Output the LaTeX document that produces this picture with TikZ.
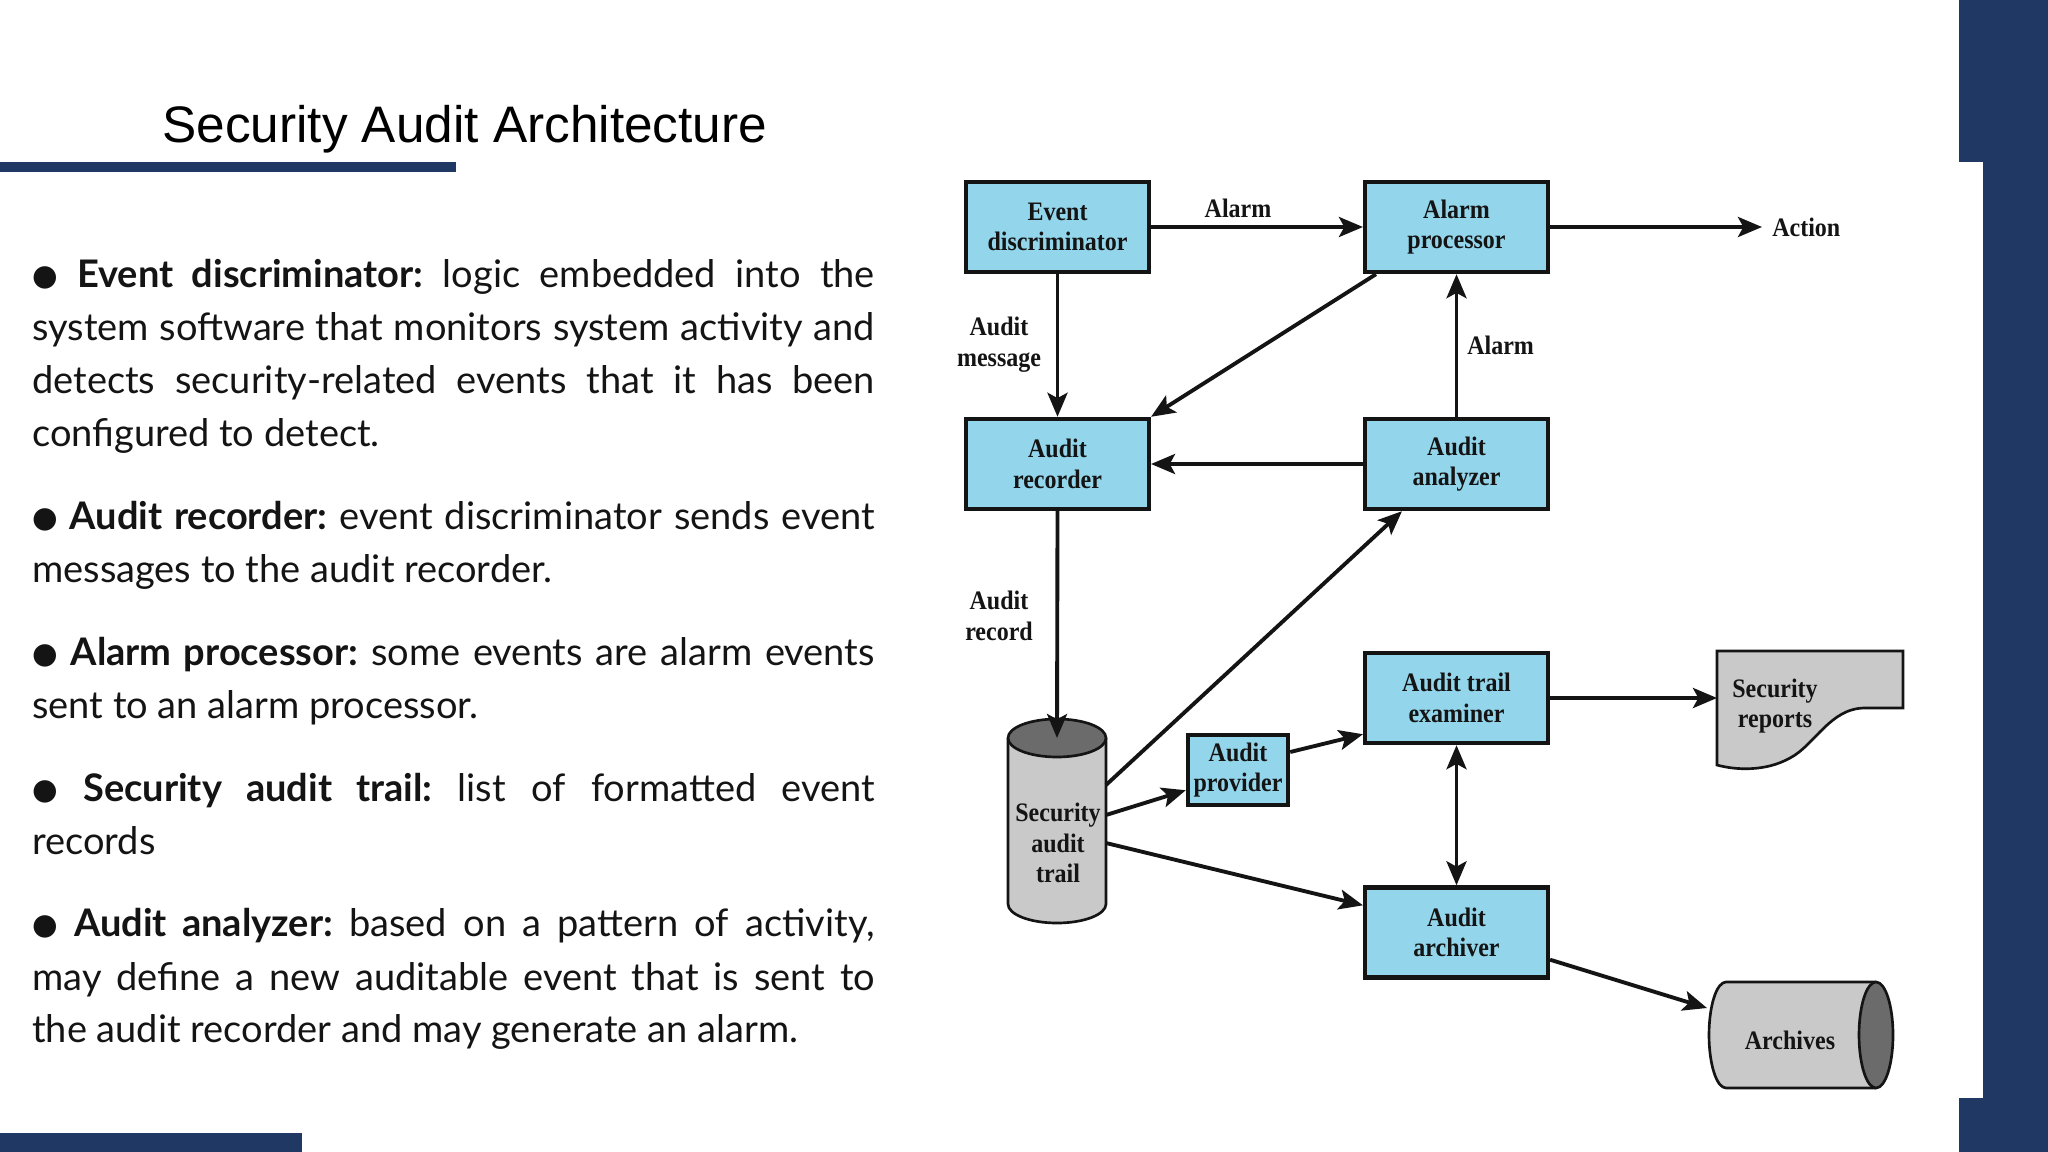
\documentclass[tikz,border=0pt]{standalone}
\usepackage{fontspec}
\setmainfont{Lato}
\newfontfamily\tfont{Liberation Sans}
\newfontfamily\dfont[FakeStretch=0.9]{Liberation Serif}
\newfontfamily\symfont{DejaVu Sans}
\usetikzlibrary{arrows.meta,calc}
\definecolor{navy}{HTML}{203864}
\definecolor{boxblue}{HTML}{93D6EC}
\definecolor{cylgray}{HTML}{C9C9C9}
\definecolor{cyldark}{HTML}{6B6B6B}
\definecolor{ink}{HTML}{141414}
\newcommand\jline[1]{\makebox[632pt][s]{#1}}
\newcommand\blt{\raisebox{1.5pt}{\symfont\fontsize{22pt}{22pt}\selectfont ●}}
\begin{document}
\begin{tikzpicture}[x=0.75pt,y=-0.75pt,
  box/.style={draw=ink, line width=3.3pt, fill=boxblue, minimum width=137pt, minimum height=67.5pt,
    inner sep=0pt, align=center, font=\dfont\bfseries\fontsize{20pt}{23pt}\selectfont, text=ink},
  lbl/.style={font=\dfont\bfseries\fontsize{20pt}{23pt}\selectfont, text=ink, align=center, inner sep=0pt},
  body/.style={anchor=base west, inner sep=0pt, font=\frenchspacing\fontsize{28.5pt}{36pt}\selectfont, text=ink},
  tip/.tip={Stealth[length=18pt,width=15pt,inset=4pt]},
  conn/.style={line width=2.9pt, draw=ink, -tip},
  shapeline/.style={draw=ink, line width=2pt}
]
\useasboundingbox (0,0) rectangle (2048,1152);
\fill[white] (0,0) rectangle (2048,1152);
% decoration bars
\fill[navy] (1959,0) -- (2048,0) -- (2048,1152) -- (1959,1152) -- (1959,1098) -- (1983,1098) -- (1983,162) -- (1959,162) -- cycle;
\fill[navy] (0,162) rectangle (456,172);
\fill[navy] (0,1133) rectangle (302,1152);
% title
\node[anchor=base west, inner sep=0pt, font=\tfont\fontsize{38.5pt}{40pt}\selectfont, text=black] (title) at (162,143) {Security Audit Architecture};
% body text
\node[body] (l1) at (32,287) {\jline{\blt\ \textbf{Event discriminator:} logic embedded into the}};
\node[body] (l2) at (32,340) {\jline{system software that monitors system activity and}};
\node[body] (l3) at (32,393) {\jline{detects security-related events that it has been}};
\node[body] (l4) at (32,446) {configured to detect.};
\node[body] (l5) at (32,529) {\jline{\blt\ \textbf{Audit recorder:} event discriminator sends event}};
\node[body] (l6) at (32,582) {messages to the audit recorder.};
\node[body] (l7) at (32,665) {\jline{\blt\ \textbf{Alarm processor:} some events are alarm events}};
\node[body] (l8) at (32,718) {sent to an alarm processor.};
\node[body] (l9) at (32,801) {\jline{\blt\ \textbf{Security audit trail:} list of formatted event}};
\node[body] (l10) at (32,854) {records};
\node[body] (l11) at (32,936) {\jline{\blt\ \textbf{Audit analyzer:} based on a pattern of activity,}};
\node[body] (l12) at (32,990) {\jline{may define a new auditable event that is sent to}};
\node[body] (l13) at (32,1042) {the audit recorder and may generate an alarm.};
% security audit trail cylinder
\fill[cylgray] (1008,738) rectangle (1106,904);
\fill[cylgray] (1057,904) ellipse[x radius=36.75pt, y radius=14.25pt];
\draw[shapeline] (1008,738) -- (1008,904) arc[start angle=180, end angle=360, x radius=36.75pt, y radius=14.25pt] -- (1106,738);
\filldraw[shapeline, fill=cyldark] (1057,738) ellipse[x radius=36.75pt, y radius=14.25pt];
\node[lbl] (sat) at (1058,843) {Security\\audit\\trail};
% security reports document
\filldraw[shapeline, fill=cylgray] (1717,651) -- (1903,651) -- (1903,708) -- (1865,708) .. controls (1830,708) and (1815,745) .. (1790,758) .. controls (1765,772) and (1735,770) .. (1717,765) -- cycle;
\node[lbl] (srt) at (1775,706) {Security\\reports};
% archives cylinder
\fill[cylgray] (1726,982) rectangle (1876,1088);
\draw[shapeline, fill=cylgray] (1876,982) -- (1726,982) arc[start angle=90, end angle=270, x radius=12.75pt, y radius=39.75pt] -- (1876,1088);
\filldraw[shapeline, fill=cyldark] (1876,1035) ellipse[x radius=12.75pt, y radius=39.75pt];
\node[lbl] (arct) at (1790,1040) {Archives};
% boxes
\node[box] (ed) at (1057.5,227) {Event\\discriminator};
\node[box] (ap) at (1456.5,227) {Alarm\\processor};
\node[box] (ar) at (1057.5,464) {Audit\\recorder};
\node[box] (aa) at (1456.5,464) {Audit\\analyzer};
\node[box] (ate) at (1456.5,698) {Audit trail\\examiner};
\node[box] (aar) at (1456.5,932.5) {Audit\\archiver};
\node[box, minimum width=75pt, minimum height=52.5pt] (apr) at (1238,770) {Audit\\provider};
% labels
\node[lbl] (lalarm1) at (1238,208) {Alarm};
\node[lbl, anchor=west] (action) at (1772,227) {Action};
\node[lbl] (lmsg) at (999,345) {Audit\\message};
\node[lbl, anchor=west] (lalarm2) at (1467,345) {Alarm};
\node[lbl] (lrec) at (999,616) {Audit\\record};
% coordinates
\coordinate (satin) at (1057,738);
\coordinate (sat1) at (1106,785);
\coordinate (sat2) at (1106,815);
\coordinate (sat3) at (1106,843);
\coordinate (srin) at (1717,698);
\coordinate (arcin) at (1707,1008);
% connectors
\draw[conn] (ed) -- (ap);
\draw[conn] (ap.east) -- ($(ap.east -| action.west)+(-10,0)$);
\draw[conn] (ed) -- (ar);
\draw[conn] ($(ap.south west)+(13,0)$) -- (ar.north east);
\draw[conn] (aa) -- (ar);
\draw[conn] (aa) -- (ap);
\draw[conn] (ar.south) -- (satin);
\draw[conn] (sat1) -- ($(aa.south west)+(39,0)$);
\draw[conn] (sat2) -- ($(apr.south west)+(0,-17)$);
\draw[conn] ($(apr.east)+(0,-18)$) -- ($(ate.south west)+(0,-11)$);
\draw[conn] (sat3) -- ($(aar.north west)+(0,20)$);
\draw[conn, tip-tip] (ate) -- (aar);
\draw[conn] (ate.east) -- (srin);
\draw[conn] ($(aar.south east)+(0,-20)$) -- (arcin);
\end{tikzpicture}
\end{document}
